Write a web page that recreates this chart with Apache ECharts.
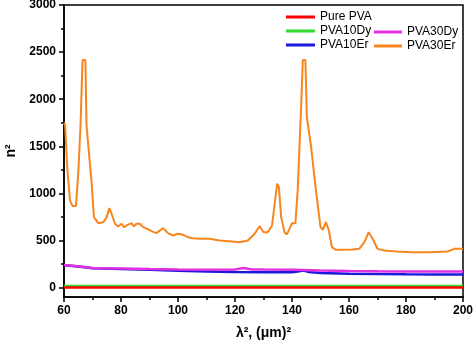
<!DOCTYPE html>
<html><head><meta charset="utf-8">
<script src="https://cdn.jsdelivr.net/npm/echarts@6/dist/echarts.min.js"></script>
<style>html,body{margin:0;padding:0;background:#fff}#c{width:474px;height:348px}</style>
</head><body><div id="c"></div>
<script>
// x tick labels and y tick labels
const xTicks = [60, 80, 100, 120, 140, 160, 180, 200];
const yTicks = [0, 500, 1000, 1500, 2000, 2500, 3000];
const yMinorTicks = [250, 750, 1250, 1750, 2250, 2750];

const seriesNames = ['Pure PVA', 'PVA10Dy', 'PVA10Er', 'PVA30Dy', 'PVA30Er'];

// Pure PVA
const purePvaX = [60, 80, 100, 120, 140, 160, 180, 200];
const purePvaY = [0, 0, 0, 0, 0, 0, 0, 0];
// PVA10Dy
const pva10DyX = [60, 80, 100, 120, 140, 160, 180, 200];
const pva10DyY = [16, 16, 16, 16, 16, 16, 16, 16];
// PVA10Er
const pva10ErX = [60, 65, 70, 80, 90, 100, 110, 120, 130, 140, 142, 144, 146, 150, 160, 170, 180, 190, 200];
const pva10ErY = [238, 225, 206, 198, 188, 180, 172, 166, 164, 162, 170, 180, 166, 154, 148, 145, 142, 140, 138];
// PVA30Dy
const pva30DyX = [60, 65, 70, 80, 90, 100, 110, 120, 123, 126, 130, 140, 150, 160, 170, 180, 190, 200];
const pva30DyY = [240, 226, 208, 203, 197, 192, 189, 192, 207, 193, 191, 189, 182, 177, 174, 172, 171, 171];
// PVA30Er
const pva30ErX = [60, 60.4, 61.2, 62.1, 63, 64.2, 65, 65.8, 66.5, 67.5, 67.9, 68.6, 69.7, 70.5, 72, 73.8, 75, 75.9, 76.7, 77.9, 79, 80.2, 81.1, 82, 83.7, 84.5, 85.4, 86.6, 87.8, 89.2, 90.7, 92.4, 94.8, 96.5, 98.3, 100, 101.8, 103.5, 105.3, 107.6, 111.1, 114.6, 118.1, 121.6, 124.5, 126.9, 128.6, 130, 131.5, 133, 134.2, 134.8, 135.4, 136.2, 137.4, 138.2, 139.1, 140, 141.2, 142, 143.2, 143.8, 144.7, 145.2, 145.9, 146.7, 147.3, 148.4, 150, 150.8, 151.9, 152.9, 154, 155.4, 157.8, 161.3, 163.6, 165.4, 166.9, 168.3, 170, 172.4, 176.4, 182.3, 188.1, 194.5, 196.9, 200];
const pva30ErY = [1750, 1723, 1250, 925, 865, 865, 1213, 1723, 2415, 2415, 1723, 1723, 1106, 748, 684, 695, 748, 844, 784, 678, 649, 678, 640, 660, 684, 650, 678, 678, 642, 624, 599, 578, 631, 578, 553, 571, 560, 535, 524, 518, 518, 500, 493, 482, 500, 571, 652, 588, 588, 660, 961, 1103, 1067, 748, 588, 564, 624, 684, 684, 1032, 1918, 2415, 2415, 1812, 1805, 1493, 1486, 1032, 642, 614, 695, 610, 429, 401, 401, 404, 411, 482, 588, 518, 411, 394, 383, 376, 376, 383, 411, 411];

const zip = (xs, ys) => xs.map((x, i) => [x, ys[i]]);
const colors = ['#ff0000', '#33dd33', '#1a1adb', '#e030e0', '#f7861f'];
const dataSets = [zip(purePvaX, purePvaY), zip(pva10DyX, pva10DyY), zip(pva10ErX, pva10ErY), zip(pva30DyX, pva30DyY), zip(pva30ErX, pva30ErY)];
const widths = [2.5, 2.5, 2.5, 2.5, 2];

const chart = echarts.init(document.getElementById('c'));
const font = 'Liberation Sans, Arial, sans-serif';
const legendText = { fontFamily: font, fontSize: 12, color: '#000' };
chart.setOption({
  animation: false,
  backgroundColor: '#fff',
  color: colors,
  grid: { left: 64, right: 11, top: 5, bottom: 51, outerBoundsMode: 'none', containLabel: false, show: true, borderColor: '#000', borderWidth: 1.5, backgroundColor: 'transparent' },
  legend: [
    { data: ['Pure PVA', 'PVA10Dy', 'PVA10Er'], orient: 'vertical', left: 286, top: 11, itemWidth: 29, itemHeight: 3, itemGap: 2, icon: 'rect', textStyle: legendText, padding: 0 },
    { data: ['PVA30Dy', 'PVA30Er'], orient: 'vertical', left: 374, top: 26, itemWidth: 28, itemHeight: 3, itemGap: 2, icon: 'rect', textStyle: legendText, padding: 0 }
  ],
  xAxis: {
    type: 'value', min: 60, max: 200, interval: 20,
    name: 'λ², (μm)²', nameLocation: 'middle', nameGap: 29,
    nameTextStyle: { fontFamily: font, fontSize: 14, fontWeight: 'bold', color: '#000' },
    axisLine: { onZero: false, lineStyle: { color: '#000', width: 1.5 } },
    axisTick: { show: true, length: 5, lineStyle: { color: '#000', width: 1.5 } },
    minorTick: { show: true, splitNumber: 2, length: 3, lineStyle: { color: '#000', width: 1.5 } },
    axisLabel: { fontFamily: font, fontSize: 12, fontWeight: 'bold', color: '#000', margin: 8, customValues: xTicks, formatter: v => String(v) },
    splitLine: { show: false }
  },
  yAxis: [
    {
      type: 'value', min: -100, max: 3000,
      name: 'n²', nameLocation: 'middle', nameGap: 41, nameRotate: 90,
      nameTextStyle: { fontFamily: font, fontSize: 14, fontWeight: 'bold', color: '#000' },
      axisLine: { show: true, onZero: false, lineStyle: { color: '#000', width: 1.5 } },
      axisTick: { show: true, length: 5, customValues: yTicks, lineStyle: { color: '#000', width: 1.5 } },
      axisLabel: { fontFamily: font, fontSize: 12, fontWeight: 'bold', color: '#000', margin: 8, customValues: yTicks, formatter: v => String(v) },
      splitLine: { show: false }
    },
    {
      type: 'value', min: -100, max: 3000, position: 'left',
      axisLine: { show: false },
      axisTick: { show: true, length: 3, customValues: yMinorTicks, lineStyle: { color: '#000', width: 1.5 } },
      axisLabel: { show: false },
      splitLine: { show: false }
    }
  ],
  series: seriesNames.map((n, i) => ({
    name: n, type: 'line', data: dataSets[i], showSymbol: false, symbol: 'none',
    lineStyle: { width: widths[i], color: colors[i] }, itemStyle: { color: colors[i] },
    z: i === 0 ? 3 : 2
  }))
});
</script></body></html>
